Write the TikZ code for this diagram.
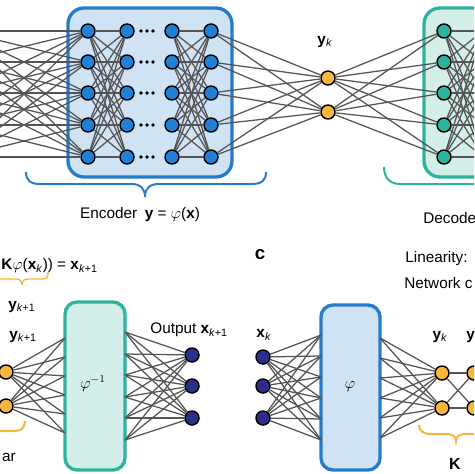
\documentclass[tikz,border=0pt]{standalone}
\usepackage{fontspec}
\setmainfont{Liberation Sans}
\definecolor{encblue}{RGB}{38,124,201}
\definecolor{encfill}{RGB}{208,227,245}
\definecolor{encnode}{RGB}{30,128,214}
\definecolor{decteal}{RGB}{46,180,158}
\definecolor{decfill}{RGB}{212,239,234}
\definecolor{decnode}{RGB}{42,180,155}
\definecolor{latorange}{RGB}{247,182,60}
\definecolor{ionode}{RGB}{45,46,140}
\definecolor{wiregray}{RGB}{85,85,85}
\tikzset{every picture/.style={line width=0.5pt}}

\begin{document}
\begin{tikzpicture}[x=0.75pt,y=0.75pt,yscale=-1,
  neuron/.style={circle,draw=black,line width=1.1pt,minimum size=10.5pt,inner sep=0pt},
  encneuron/.style={neuron,fill=encnode},
  decneuron/.style={neuron,fill=decnode},
  latneuron/.style={neuron,fill=latorange},
  ioneuron/.style={neuron,fill=ionode},
  wire/.style={draw=wiregray,line width=0.95pt},
  encbox/.style={draw=encblue,fill=encfill,line width=2.5pt},
  decbox/.style={draw=decteal,fill=decfill,line width=2.5pt},
  lbl/.style={font=\fontsize{11.5}{13}\selectfont,inner sep=0pt}
]
        \useasboundingbox (0,0) rectangle (474,474);
        \clip (0,0) rectangle (474,474);

        %Top: encoder and decoder boxes
        \draw[encbox,rounded corners=12pt] (68,8) rectangle (232,177);
        \draw[decbox,rounded corners=12pt] (424,8) rectangle (540,177);

        %Top: layers
        \foreach \r/\y in {1/31,2/62,3/93,4/125,5/157} {
          \coordinate (in\r) at (-40,\y);
          \node[encneuron] (e1\r) at (88,\y) {};
          \node[encneuron] (e2\r) at (127,\y) {};
          \node[encneuron] (e3\r) at (172,\y) {};
          \node[encneuron] (e4\r) at (211,\y) {};
          \node[decneuron] (d1\r) at (444,\y) {};
          \coordinate (d2\r) at (483,\y);
          \foreach \dx in {141,147,153} \fill (\dx,\y) circle (1.9);
        }
        \node[latneuron] (yk1) at (328,78) {};
        \node[latneuron] (yk2) at (328,112) {};

        %Top: connections
        \foreach \a in {1,...,5} {
          \foreach \b in {1,...,5} {
            \draw[wire] (in\a) -- (e1\b);
            \draw[wire] (e1\a) -- (e2\b);
            \draw[wire] (e3\a) -- (e4\b);
            \draw[wire] (d1\a) -- (d2\b);
          }
          \foreach \b in {1,2} {
            \draw[wire] (e4\a) -- (yk\b);
            \draw[wire] (yk\b) -- (d1\a);
          }
        }

        %Top: braces and labels
        \draw[encblue,line width=1.5pt] (26,172) .. controls (26,180) and (30,184) .. (40,184) -- (131,184) .. controls (140,184) and (145,188) .. (145,197) .. controls (145,188) and (150,184) .. (159,184) -- (252,184) .. controls (262,184) and (266,180) .. (266,172);
        \draw[decteal,line width=1.5pt] (384,167) .. controls (384,178) and (390,184) .. (400,184) -- (490,184);
        \node[lbl] (yklbl) at (325,42) {\textbf{y}\textsubscript{\textit{k}}};
        \node[lbl] (enclbl) at (140,215) {Encoder\enspace \textbf{y} = $\varphi$(\textbf{x})};
        \node[lbl,anchor=west] (declbl) at (423,218) {Decoder};

        %Bottom left: inverse map
        \draw[decbox,rounded corners=9pt] (65,302) rectangle (125,470);
        \node[lbl] (pinvlbl) at (93,384) {$\varphi^{-1}$};
        \foreach \i/\yl/\yr in {1/338/332,2/357/354,3/376/375,4/395/397,5/414/418,6/433/440} {
          \coordinate (pl\i) at (65,\yl);
          \coordinate (pr\i) at (125,\yr);
        }
        \node[latneuron] (ylb1) at (6,372) {};
        \node[latneuron] (ylb2) at (6,406) {};
        \node[ioneuron] (xo1) at (192,355) {};
        \node[ioneuron] (xo2) at (192,386) {};
        \node[ioneuron] (xo3) at (192,418) {};
        \foreach \i in {1,...,6} {
          \foreach \j in {1,2} \draw[wire] (ylb\j) -- (pl\i);
          \foreach \j in {1,2,3} \draw[wire] (pr\i) -- (xo\j);
        }
        \draw[latorange,line width=1pt] (-6,272) .. controls (-6,277) and (-3,279) .. (2,279) -- (16,279) .. controls (20,279) and (22,281) .. (22,284) .. controls (22,281) and (24,279) .. (28,279) -- (42,279) .. controls (47,279) and (48,277) .. (48,272);
        \draw[latorange,line width=1.5pt] (-20,431) -- (14,431) .. controls (21,431) and (25,428) .. (25,421);
        \node[lbl,anchor=west] (maplbl) at (1,266) {\textbf{K}$\varphi$(\textbf{x}\textsubscript{\textit{k}})) = \textbf{x}\textsubscript{\textit{k}+1}};
        \node[lbl,anchor=west] (yn1lbl) at (8,307) {\textbf{y}\textsubscript{\textit{k}+1}};
        \node[lbl,anchor=east] (yn2lbl) at (37,337) {\textbf{y}\textsubscript{\textit{k}+1}};
        \node[lbl,anchor=east] (linlbl) at (16,457) {ar};
        \node[lbl,anchor=west] (outlbl) at (150,330) {Output \textbf{x}\textsubscript{\textit{k}+1}};

        %Bottom right: panel c
        \node[font=\fontsize{14}{16}\selectfont\bfseries,inner sep=0pt] (clbl) at (260,255) {c};
        \node[lbl,anchor=west] (linrlbl) at (405,259) {Linearity:};
        \node[lbl,anchor=west] (netlbl) at (404,283) {Network c};
        \draw[encbox,rounded corners=9pt] (321,305) rectangle (380,470);
        \node[lbl] (philbl) at (350,387) {$\varphi$};
        \foreach \i/\yl/\yr in {1/335/338,2/356/358,3/377/378,4/398/398,5/419/418,6/440/438} {
          \coordinate (cl\i) at (321,\yl);
          \coordinate (cr\i) at (380,\yr);
        }
        \node[ioneuron] (xi1) at (263,357) {};
        \node[ioneuron] (xi2) at (263,386) {};
        \node[ioneuron] (xi3) at (263,418) {};
        \node[latneuron] (ykc1) at (442,373) {};
        \node[latneuron] (ykc2) at (442,408) {};
        \node[latneuron] (ykn1) at (474,373) {};
        \node[latneuron] (ykn2) at (474,408) {};
        \foreach \i in {1,...,6} {
          \foreach \j in {1,2,3} \draw[wire] (xi\j) -- (cl\i);
          \foreach \j in {1,2} \draw[wire] (cr\i) -- (ykc\j);
        }
        \foreach \a in {1,2} \foreach \b in {1,2} \draw[wire] (ykc\a) -- (ykn\b);
        \draw[latorange,line width=1.5pt] (419,425) .. controls (419,431) and (423,434) .. (431,434) -- (447,434) .. controls (453,434) and (456,437) .. (456,441) .. controls (456,437) and (459,434) .. (465,434) -- (485,434);
        \node[lbl] (xklbl) at (264,335) {\textbf{x}\textsubscript{\textit{k}}};
        \node[lbl] (ykclbl) at (440,337) {\textbf{y}\textsubscript{\textit{k}}};
        \node[lbl,anchor=west] (ykclbl2) at (466,337) {\textbf{y}\textsubscript{\textit{k}+1}};
        \node[font=\fontsize{12}{14}\selectfont\bfseries,inner sep=0pt] (klbl) at (455,464) {K};

        \end{tikzpicture}
\end{document}
